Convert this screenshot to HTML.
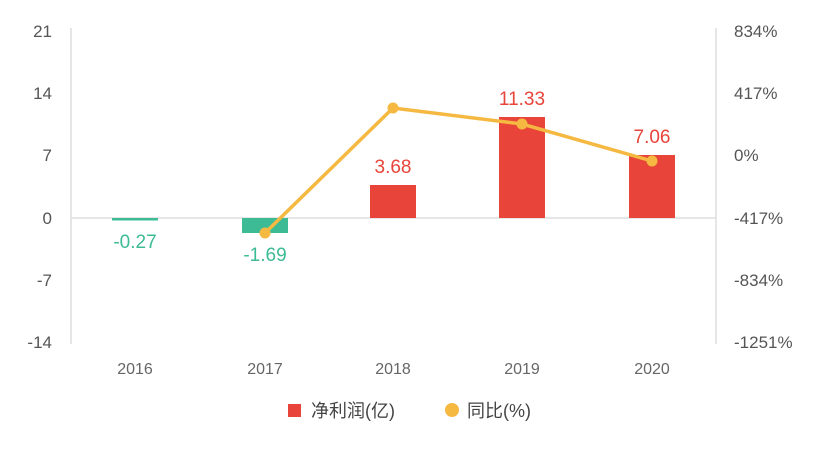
<!DOCTYPE html>
<html><head><meta charset="utf-8"><style>
body{margin:0;background:#fff;}
svg text{font-family:"Liberation Sans","Noto Sans CJK SC",sans-serif;}
</style></head><body>
<svg width="828" height="455" viewBox="0 0 828 455" xmlns="http://www.w3.org/2000/svg">
<rect width="828" height="455" fill="#fff"/>
<line x1="71" y1="28" x2="71" y2="344" stroke="#ddd" stroke-width="1.5"/>
<line x1="716" y1="28" x2="716" y2="344" stroke="#ddd" stroke-width="1.5"/>
<line x1="71" y1="218" x2="716" y2="218" stroke="#ddd" stroke-width="1.5"/>
<g font-size="17" fill="#555" text-anchor="end">
<text x="52" y="37">21</text><text x="52" y="99">14</text><text x="52" y="161">7</text>
<text x="52" y="224">0</text><text x="52" y="286">-7</text><text x="52" y="348">-14</text>
</g>
<g font-size="17" fill="#555" text-anchor="start">
<text x="734" y="37">834%</text><text x="734" y="99">417%</text><text x="734" y="161">0%</text>
<text x="734" y="224">-417%</text><text x="734" y="286">-834%</text><text x="734" y="348">-1251%</text>
</g>
<g font-size="16" fill="#666" text-anchor="middle">
<text x="135" y="374">2016</text><text x="265" y="374">2017</text><text x="393" y="374">2018</text>
<text x="522" y="374">2019</text><text x="652" y="374">2020</text>
</g>
<rect x="112" y="218" width="46" height="2.5" fill="#3dbb95"/>
<rect x="242" y="218" width="46" height="15" fill="#3dbb95"/>
<rect x="370" y="185" width="46" height="33" fill="#e8443a"/>
<rect x="499" y="117" width="46" height="101" fill="#e8443a"/>
<rect x="629" y="155" width="46" height="63" fill="#e8443a"/>
<g font-size="19" text-anchor="middle">
<text x="135" y="248" fill="#3dbb95">-0.27</text>
<text x="265" y="261" fill="#3dbb95">-1.69</text>
<text x="393" y="173" fill="#e8443a">3.68</text>
<text x="522" y="105" fill="#e8443a">11.33</text>
<text x="652" y="143" fill="#e8443a">7.06</text>
</g>
<polyline points="265,233 393,108 522,124 652,161" fill="none" stroke="#f5b942" stroke-width="3.5" stroke-linejoin="round"/>
<g fill="#f5b942">
<circle cx="265" cy="233" r="5.5"/><circle cx="393" cy="108" r="5.5"/>
<circle cx="522" cy="124" r="5.5"/><circle cx="652" cy="161" r="5.5"/>
</g>
<rect x="288" y="404" width="13" height="13" fill="#e8443a"/>
<text x="311" y="417" font-size="18" fill="#444">净利润(亿)</text>
<circle cx="452" cy="410" r="7" fill="#f5b942"/>
<text x="467" y="417" font-size="18" fill="#444">同比(%)</text>
</svg>
</body></html>
